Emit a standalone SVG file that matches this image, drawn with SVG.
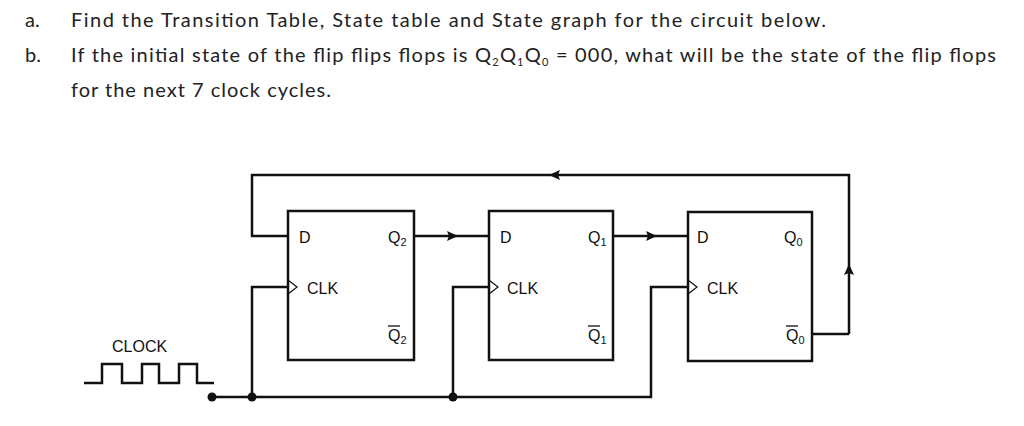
<svg xmlns="http://www.w3.org/2000/svg" width="1024" height="426" viewBox="0 0 1024 426">
<style>
.t{font-family:Lato,"Open Sans",sans-serif;font-size:20px;fill:#222}
.l{font-family:"Liberation Sans",Arial,sans-serif;font-size:16px;fill:#111}
.s{font-size:11px}
.w{fill:none;stroke:#111;stroke-width:2.5}
.b{fill:#fff;stroke:#111;stroke-width:2.5}
.ah{fill:#111}
</style>
<rect width="1024" height="426" fill="#fff"/>
<text class="t" x="25" y="27">a.</text>
<text class="t" x="71" y="27" textLength="755">Find the Transition Table, State table and State graph for the circuit below.</text>
<text class="t" x="25" y="62">b.</text>
<text class="t" x="71" y="62" textLength="925">If the initial state of the flip flips flops is Q<tspan class="s" dy="4">2</tspan><tspan dy="-4">Q</tspan><tspan class="s" dy="4">1</tspan><tspan dy="-4">Q</tspan><tspan class="s" dy="4">0</tspan><tspan dy="-4"> = 000, what will be the state of the flip flops</tspan></text>
<text class="t" x="71" y="97" textLength="260">for the next 7 clock cycles.</text>
<g id="connectors">
<path class="w" d="M849,334V175H252V236H288"/>
<path class="w" d="M812,334H849"/>
<path class="w" d="M414,236H489M613,236H688"/>
<path class="w" d="M212,397H651V287H688M252,397V287H288M453,397V287H489"/>
<path class="w" d="M84,383H102V364H122V383H142V364H159V383H179V364H197V383H214"/>
<polygon class="ah" points="549,175 560,170 558,175 560,180"/>
<polygon class="ah" points="458,236 447,231 449,236 447,241"/>
<polygon class="ah" points="657,236 646,231 648,236 646,241"/>
<polygon class="ah" points="849,264 844,275 849,273 854,275"/>
<circle cx="212" cy="397" r="4.5" fill="#111"/><circle cx="252" cy="397" r="4.5" fill="#111"/><circle cx="453" cy="397" r="4.5" fill="#111"/>
<text class="l" x="112" y="352">CLOCK</text>
</g>
<g id="ff2"><rect class="b" x="288" y="211" width="126" height="149"/><path d="M288,280L297,287L288,294" fill="none" stroke="#111" stroke-width="1.2"/>
<text class="l" x="299" y="243">D</text><text class="l" x="388" y="243">Q<tspan class="s" dy="3">2</tspan></text><text class="l" x="307" y="294">CLK</text>
<text class="l" x="388" y="341">Q<tspan class="s" dy="3">2</tspan></text><path d="M388,326H400" stroke="#111" stroke-width="1.3"/></g>
<g id="ff1"><rect class="b" x="489" y="211" width="124" height="149"/><path d="M489,280L498,287L489,294" fill="none" stroke="#111" stroke-width="1.2"/>
<text class="l" x="500" y="243">D</text><text class="l" x="588" y="243">Q<tspan class="s" dy="3">1</tspan></text><text class="l" x="507" y="294">CLK</text>
<text class="l" x="588" y="341">Q<tspan class="s" dy="3">1</tspan></text><path d="M588,326H600" stroke="#111" stroke-width="1.3"/></g>
<g id="ff0"><rect class="b" x="688" y="212" width="124" height="149"/><path d="M688,280L697,287L688,294" fill="none" stroke="#111" stroke-width="1.2"/>
<text class="l" x="697" y="243">D</text><text class="l" x="784" y="243">Q<tspan class="s" dy="3">0</tspan></text><text class="l" x="707" y="294">CLK</text>
<text class="l" x="786" y="341">Q<tspan class="s" dy="3">0</tspan></text><path d="M786,326H798" stroke="#111" stroke-width="1.3"/></g>
</svg>
